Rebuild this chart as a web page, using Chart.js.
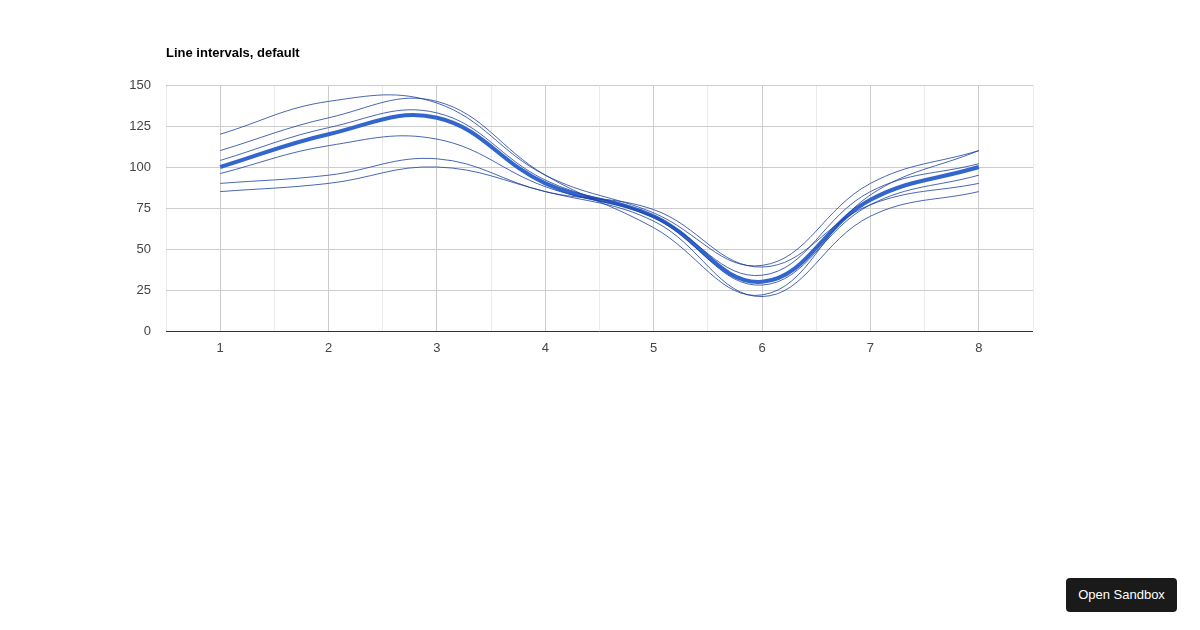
<!DOCTYPE html>
<html><head><meta charset="utf-8">
<script src="https://cdn.jsdelivr.net/npm/chart.js@4"></script>
<style>
body{margin:0;background:#fff;font-family:"Liberation Sans",Arial,sans-serif;}
#wrap{position:absolute;left:0;top:0;width:1200px;height:630px;}
#title{position:absolute;left:166px;top:45px;font-weight:bold;font-size:13px;color:#000;}
#btn{position:absolute;left:1066px;top:578px;width:111px;height:34px;background:#1a1a1a;color:#fff;border-radius:4px;font-size:13px;line-height:34px;text-align:center;}
</style></head><body>
<div id="wrap"><canvas id="c" width="1200" height="630"></canvas></div>
<div id="title">Line intervals, default</div>
<div id="btn">Open Sandbox</div>
<script>
const xs = [1,2,3,4,5,6,7,8];
const values = [100,120,130,90,70,30,80,100];
const i0 = [90,95,105,85,74,39,77,90];
const i1 = [110,130,140,95,63,22,83,110];
const i2 = [85,90,100,85,67,21,70,85];
const i3 = [96,113,117,88,69,28,77,95];
const i4 = [104,124,133,92,70,34,85,102];
const i5 = [120,140,139,95,72,40,90,110];
const yTicks = [0,25,50,75,100,125,150];

const pts = arr => xs.map((x,i)=>({x:x,y:arr[i]}));
const intervalSets = [i0,i1,i2,i3,i4,i5].map(a=>({data:pts(a),borderColor:'#1c3f9e',borderWidth:0.8,pointRadius:0,showLine:true,tension:0.4,fill:false}));
const mainSet = {data:pts(values),borderColor:'#3366cc',borderWidth:4,pointRadius:0,showLine:true,tension:0.4,fill:false};

new Chart(document.getElementById('c'),{
  type:'scatter',
  data:{datasets:[...intervalSets, mainSet]},
  options:{
    responsive:false,animation:false,
    layout:{padding:{left:0,right:167,top:85,bottom:0}},
    plugins:{legend:{display:false},tooltip:{enabled:false}},
    scales:{
      x:{type:'linear',min:0.5,max:8.5,
        afterBuildTicks:s=>{s.ticks=[];for(let v=0.5;v<=8.5;v+=0.5)s.ticks.push({value:v});},
        afterFit:s=>{s.height=299;},
        grid:{color:c=>Number.isInteger(c.tick.value)?'#cccccc':'#ebebeb',drawTicks:false},
        border:{display:false},
        ticks:{padding:10,color:'#444',font:{family:'Liberation Sans',size:13},autoSkip:false,maxRotation:0,
          callback:v=>Number.isInteger(v)?String(v):''}},
      y:{min:0,max:150,
        afterBuildTicks:s=>{s.ticks=yTicks.map(v=>({value:v}));},
        afterFit:s=>{s.width=166;},
        grid:{color:c=>c.tick.value===0?'#333333':'#cccccc',drawTicks:false},
        border:{display:false},
        ticks:{padding:15,color:'#444',font:{family:'Liberation Sans',size:13}}}
    }
  }
});
</script></body></html>
